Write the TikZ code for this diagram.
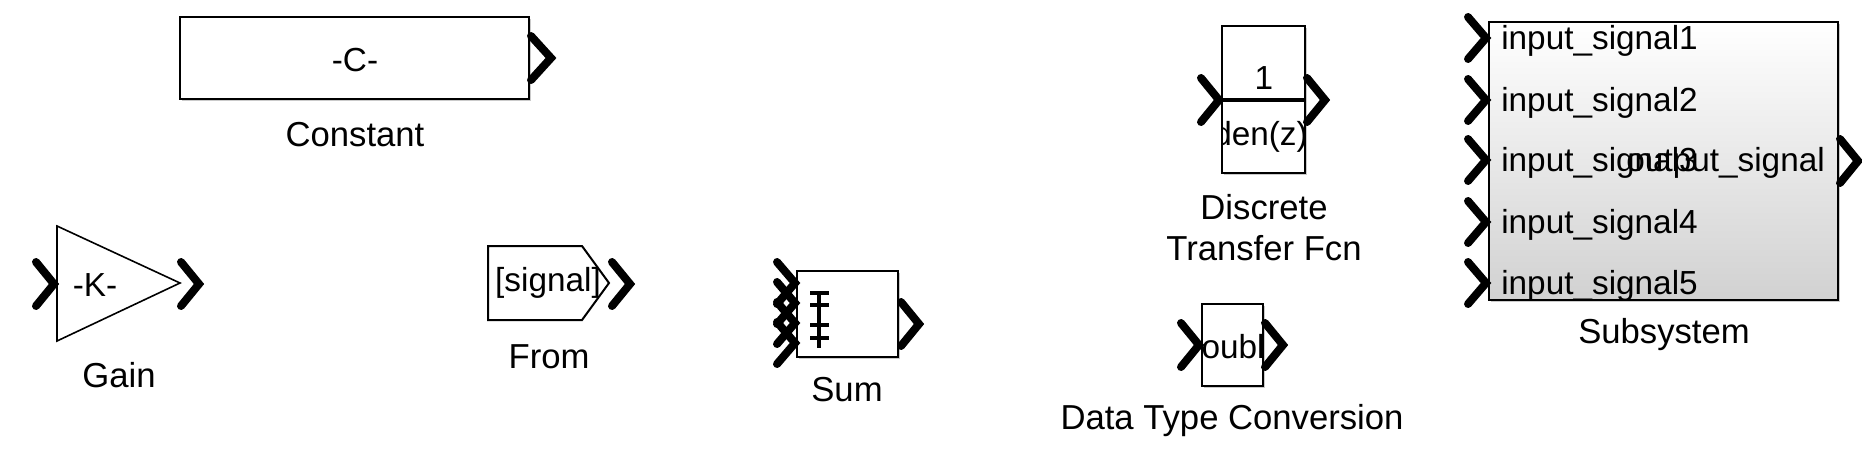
\documentclass[tikz,border=0pt]{standalone}
\usepackage{fontspec}
\setmainfont{Liberation Sans}
\usetikzlibrary{shadows}
\begin{document}
\begin{tikzpicture}[x=0.75pt,y=-0.75pt,
  blk/.style={draw,line width=1.5pt,fill=white,inner sep=0pt,drop shadow={shadow xshift=1.5pt,shadow yshift=-1.5pt,fill=black!35,opacity=0.6}},
  lbl/.style={font=\fontsize{26}{30}\selectfont,inner sep=0pt},
  txt/.style={font=\fontsize{25}{29}\selectfont,inner sep=0pt},
  chev/.style={line width=6pt,line cap=round,line join=miter}]
\useasboundingbox (0,0) rectangle (1862,451);
% Constant
\node[blk,minimum width=349*0.75pt,minimum height=82*0.75pt] (const) at (354.5,58) {};
\node[txt] (ctext) at (355,60) {-C-};
\node[lbl] (clbl) at (355,135) {Constant};
\draw[chev] (531,36) -- (551,58) -- (531,80);
% Gain
\draw[line width=1.2pt,fill=white] (57,226) coordinate (g1) -- (180,283) coordinate (g2) -- (57,341) coordinate (g3) -- cycle;
\node[txt] (gtext) at (95,285) {-K-};
\node[lbl] (glbl) at (119,375) {Gain};
\draw[chev] (36,262) -- (54,284) -- (36,306);
\draw[chev] (181,262) -- (199,284) -- (181,306);
% From
\draw[line width=1.5pt,fill=white] (488,246) coordinate (f1) -- (582,246) -- (609,283) -- (582,320) -- (488,320) -- cycle;
\node[txt] (ftext) at (548,283) {[signal]};
\node[lbl] (flbl) at (549,357) {From};
\draw[chev] (612,262) -- (630,284) -- (612,306);
% Sum
\node[blk,minimum width=101*0.75pt,minimum height=86*0.75pt] (sum) at (847.5,314) {};
\begin{scope}[line width=2.5pt]
\draw (819,293) -- (819,348);
\draw (810,293) -- (829,293);
\draw (810,305) -- (829,305);
\draw (810,325) -- (829,325);
\draw (810,338) -- (829,338);
\end{scope}
\node[lbl] (slbl) at (847,390) {Sum};
\foreach \c in {283,303,323,343}{\draw[chev] (777,\c-21) -- (795,\c) -- (777,\c+21);}
\draw[chev] (901,302) -- (919,324) -- (901,346);
% Discrete Transfer Fcn
\node[blk,minimum width=83*0.75pt,minimum height=147*0.75pt] (dtf) at (1263.5,99.5) {};
\draw[line width=3pt] (dtf.west |- 0,100) -- (dtf.east |- 0,100);
\node[txt] (num) at (1264,78) {1};
\begin{scope}
\clip (1222,100) rectangle (1305,173);
\node[txt,anchor=west] (den) at (1213,137) {den(z)};
\end{scope}
\node[lbl] (dl1) at (1264,207) {Discrete};
\node[lbl] (dl2) at (1264,248) {Transfer Fcn};
\draw[chev] (1201,78) -- (1219,100) -- (1201,122);
\draw[chev] (1307,78) -- (1325,100) -- (1307,122);
% Data Type Conversion
\node[blk,minimum width=61*0.75pt,minimum height=82*0.75pt] (dtc) at (1232.5,345) {};
\begin{scope}
\clip (1202,304) rectangle (1263,386);
\node[txt] (dtext) at (1233,347) {double};
\end{scope}
\node[lbl] (dtlbl) at (1232,421) {Data Type Conversion};
\draw[chev] (1181,323) -- (1199,345) -- (1181,367);
\draw[chev] (1265,323) -- (1283,345) -- (1265,367);
% Subsystem
\node[draw,line width=1.5pt,inner sep=0pt,minimum width=349*0.75pt,minimum height=278*0.75pt,top color=white,bottom color=black!18,drop shadow={shadow xshift=1.5pt,shadow yshift=-1.5pt,fill=black!35,opacity=0.6}] (sub) at (1663.5,161) {};
\foreach \c/\t in {38/1,100/2,160/3,222/4,283/5}{
  \draw[chev] (1468,\c-21) -- (1486,\c) -- (1468,\c+21);
  \node[txt,anchor=west] (in\t) at (1501,\c+3) {input\_signal\t};
}
\node[txt,anchor=east] (out) at (1825,163) {output\_signal};
\draw[chev] (1840,139) -- (1858,161) -- (1840,183);
\node[lbl] (sublbl) at (1664,335) {Subsystem};
\end{tikzpicture}
\end{document}
